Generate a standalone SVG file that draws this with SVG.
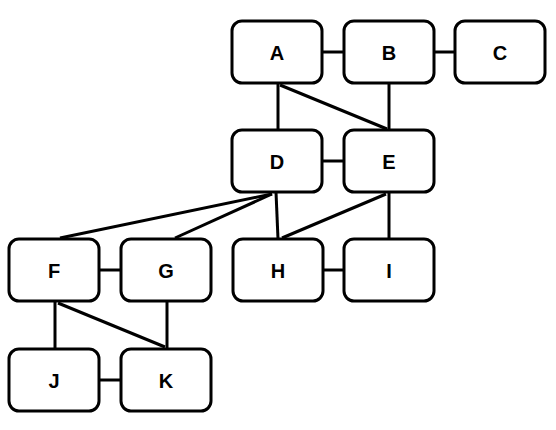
<svg xmlns="http://www.w3.org/2000/svg" width="556" height="430" viewBox="0 0 556 430">
<style>
.n rect{fill:#fff;stroke:#000;stroke-width:3}
.n text{font-family:"Liberation Sans",Arial,sans-serif;font-weight:bold;font-size:20px;fill:#000;text-anchor:middle;dominant-baseline:central}
#edges line{stroke:#000;stroke-width:3}
</style>
<rect width="556" height="430" fill="#fff"/>
<g id="edges">
<line x1="322" y1="52" x2="346" y2="52"/>
<line x1="434" y1="52" x2="456" y2="52"/>
<line x1="278" y1="82" x2="278" y2="131"/>
<line x1="280" y1="85" x2="387" y2="129"/>
<line x1="389" y1="82" x2="389" y2="131"/>
<line x1="322" y1="161" x2="346" y2="161"/>
<line x1="272" y1="194" x2="60" y2="238"/>
<line x1="272" y1="194" x2="175" y2="238"/>
<line x1="276" y1="192" x2="278" y2="239"/>
<line x1="386" y1="194" x2="282" y2="238"/>
<line x1="389" y1="192" x2="389" y2="240"/>
<line x1="99" y1="270" x2="122" y2="270"/>
<line x1="322" y1="270" x2="346" y2="270"/>
<line x1="55" y1="301" x2="55" y2="349"/>
<line x1="58" y1="303" x2="165" y2="347"/>
<line x1="167" y1="301" x2="167" y2="349"/>
<line x1="99" y1="380" x2="122" y2="380"/>
</g>
<g id="A" class="n"><rect x="232" y="21" width="90" height="62" rx="10"/><text x="277" y="53">A</text></g>
<g id="B" class="n"><rect x="344" y="21" width="90" height="62" rx="10"/><text x="389" y="53">B</text></g>
<g id="C" class="n"><rect x="455" y="21" width="90" height="62" rx="10"/><text x="500" y="53">C</text></g>
<g id="D" class="n"><rect x="232" y="130" width="90" height="62" rx="10"/><text x="277" y="162">D</text></g>
<g id="E" class="n"><rect x="344" y="130" width="90" height="62" rx="10"/><text x="389" y="162">E</text></g>
<g id="F" class="n"><rect x="9" y="239" width="90" height="62" rx="10"/><text x="54" y="271">F</text></g>
<g id="G" class="n"><rect x="121" y="239" width="90" height="62" rx="10"/><text x="166" y="271">G</text></g>
<g id="H" class="n"><rect x="233" y="239" width="90" height="62" rx="10"/><text x="278" y="271">H</text></g>
<g id="I" class="n"><rect x="344" y="239" width="90" height="62" rx="10"/><text x="389" y="271">I</text></g>
<g id="J" class="n"><rect x="9" y="349" width="90" height="62" rx="10"/><text x="54" y="381">J</text></g>
<g id="K" class="n"><rect x="121" y="349" width="90" height="62" rx="10"/><text x="166" y="381">K</text></g>
</svg>
